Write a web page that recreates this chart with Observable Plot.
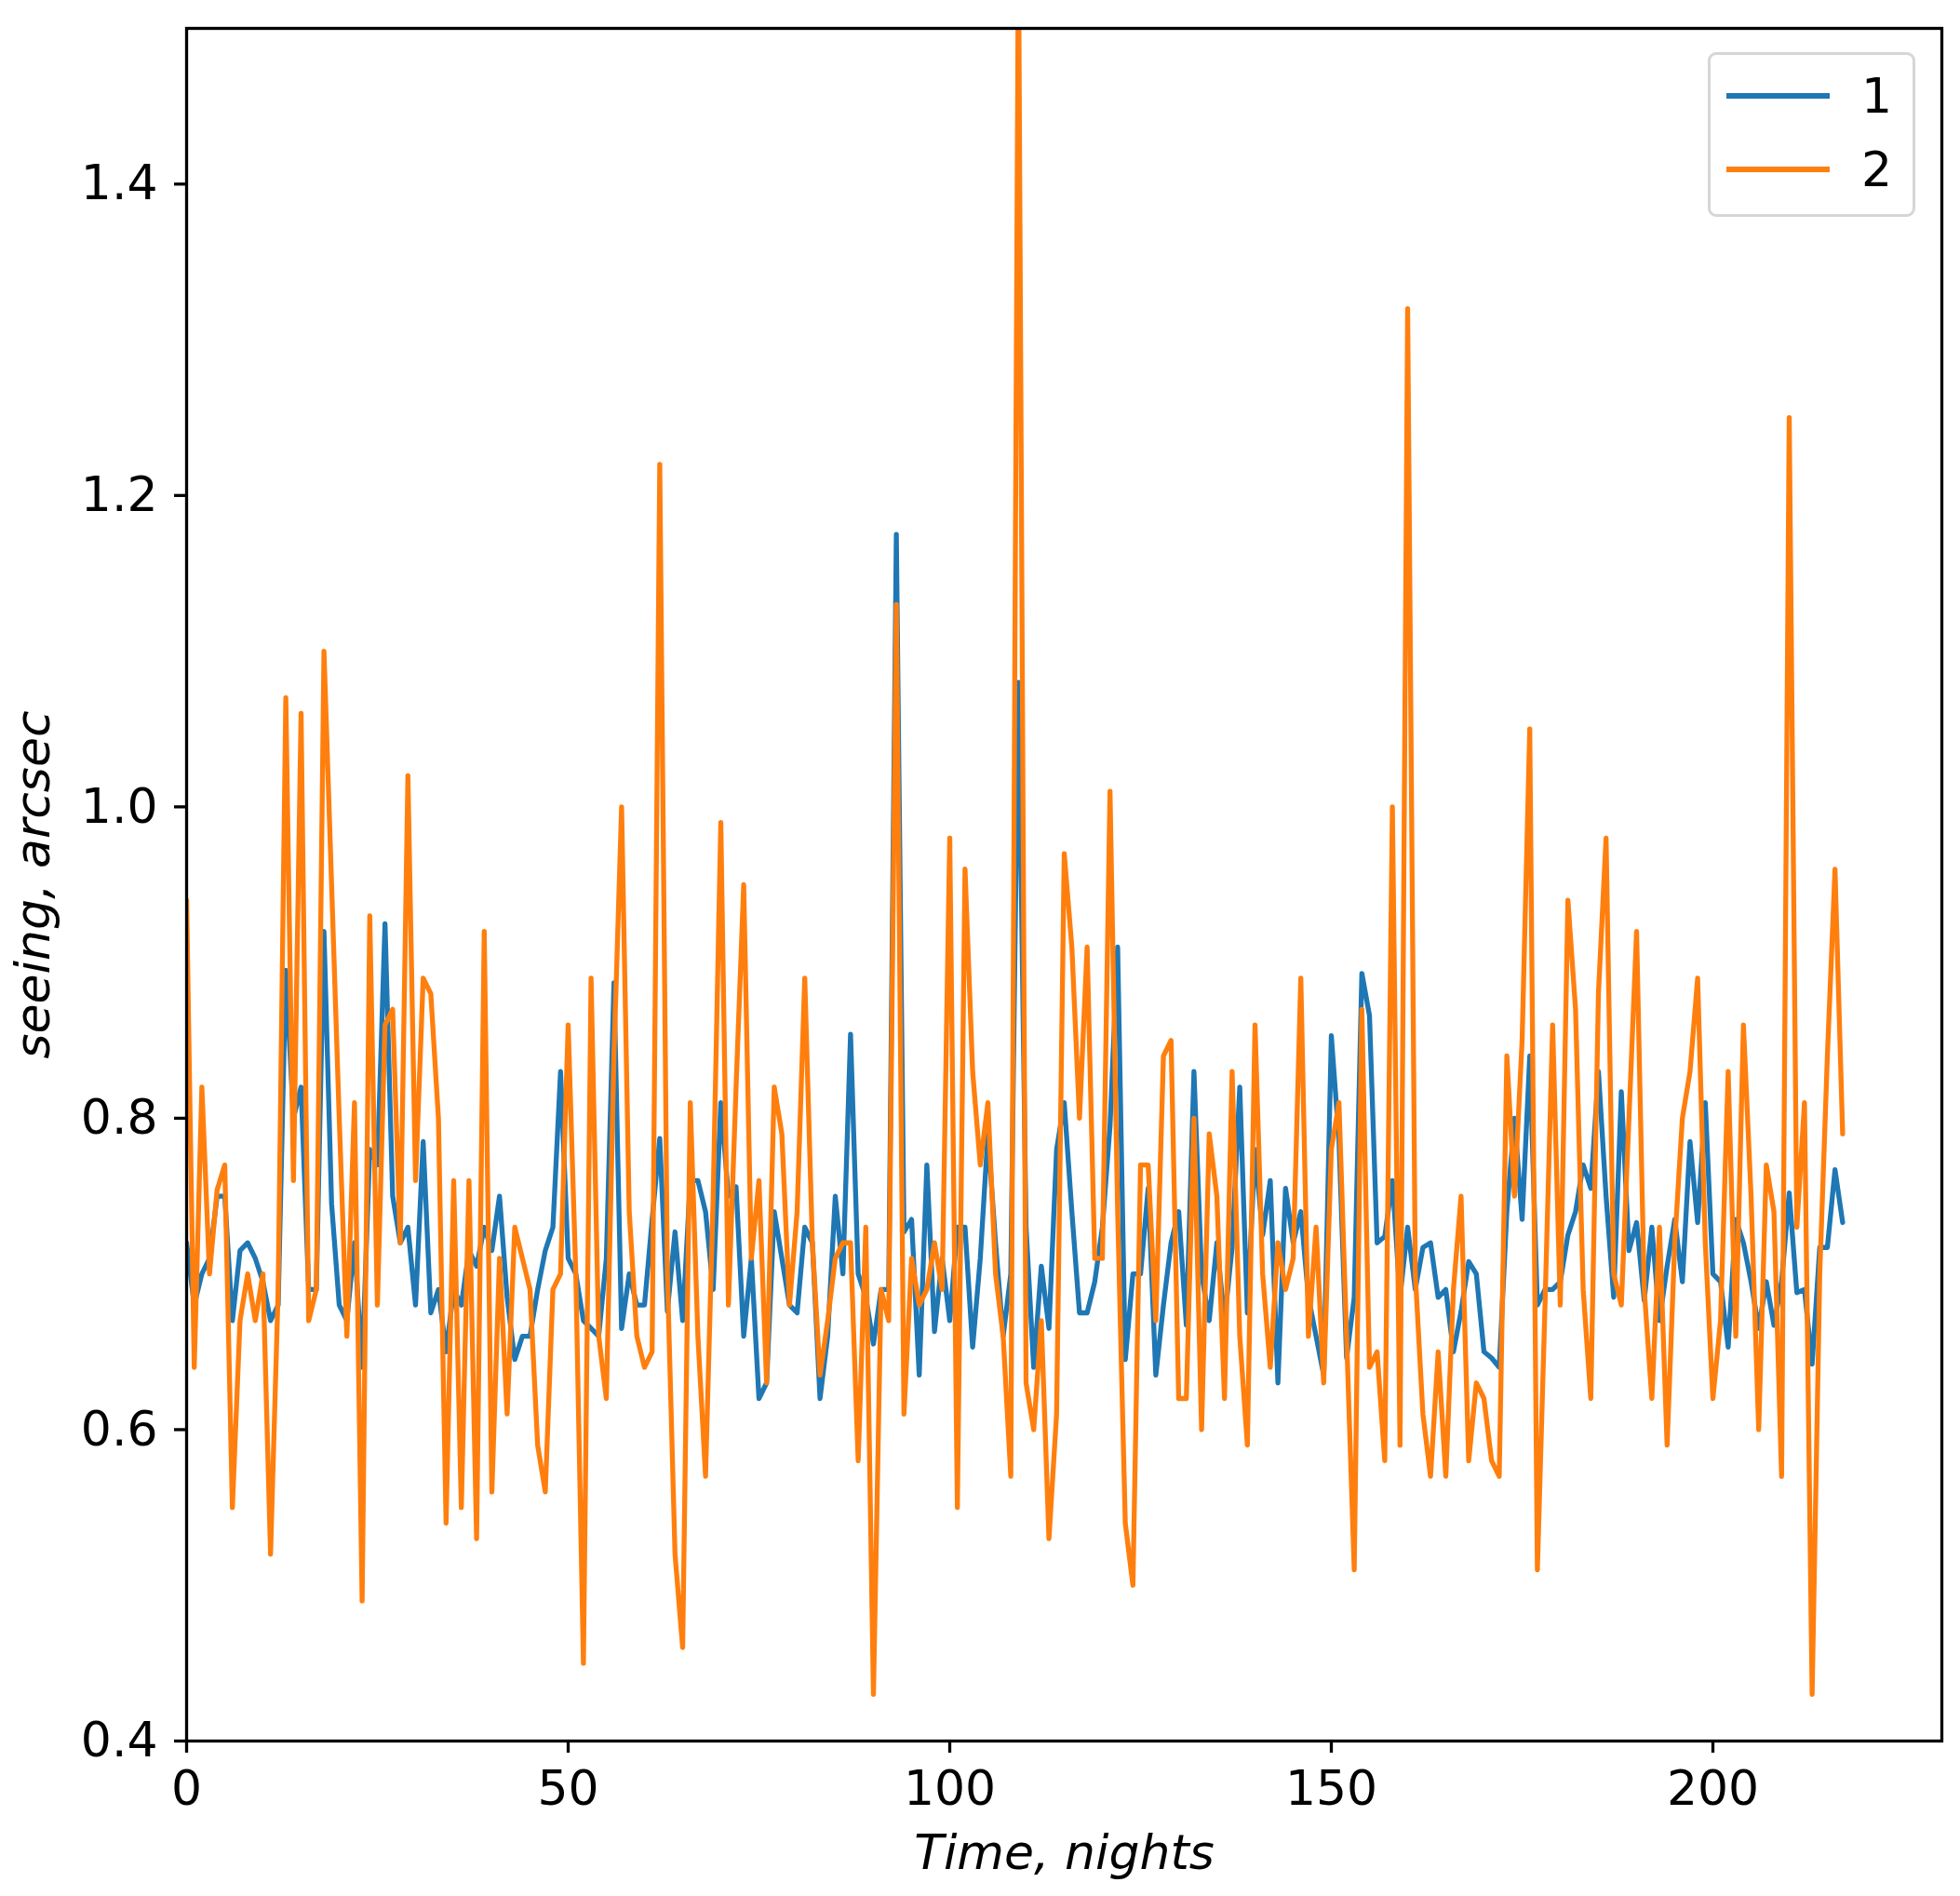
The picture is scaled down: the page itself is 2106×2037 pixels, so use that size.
<!DOCTYPE html>
<html>
<head>
<meta charset="utf-8">
<script src="https://cdn.jsdelivr.net/npm/d3@7"></script>
<script src="https://cdn.jsdelivr.net/npm/@observablehq/plot@0.6"></script>
<style>
  html, body { margin: 0; padding: 0; background: #fff; }
  #wrap { position: relative; width: 2106px; height: 2037px; font-family: "DejaVu Sans", sans-serif; }
  #legend { position: absolute; box-sizing: border-box; border: 3px solid #d6d6d6; border-radius: 9px; background: rgba(255,255,255,0.8); }
  #legend .sw { position: absolute; left: 17px; width: 111px; height: 5.5px; }
  #legend .lab { position: absolute; left: 162px; font-size: 52px; line-height: 52px; color: #000; }
</style>
</head>
<body>
<div id="wrap"></div>
<script>
// ---- data ----
const seriesNames = ["1", "2"];
const seriesColors = ["#1f77b4", "#ff7f0e"];

const series1 = [
  0.72, 0.68, 0.70, 0.71, 0.75, 0.75, 0.67, 0.715, 0.72, 0.71,
  0.695, 0.67, 0.68, 0.895, 0.80, 0.82, 0.69, 0.69, 0.92, 0.745,
  0.68, 0.67, 0.72, 0.64, 0.78, 0.77, 0.925, 0.75, 0.72, 0.73,
  0.68, 0.785, 0.675, 0.69, 0.65, 0.69, 0.68, 0.715, 0.705, 0.73,
  0.715, 0.75, 0.685, 0.645, 0.66, 0.66, 0.69, 0.715, 0.73, 0.83,
  0.71, 0.70, 0.67, 0.665, 0.66, 0.71, 0.887, 0.665, 0.70, 0.68,
  0.68, 0.735, 0.787, 0.676, 0.727, 0.67, 0.76, 0.76, 0.74, 0.69,
  0.81, 0.75, 0.756, 0.66, 0.71, 0.62, 0.63, 0.74, 0.71, 0.68,
  0.675, 0.73, 0.72, 0.62, 0.66, 0.75, 0.70, 0.854, 0.70, 0.685,
  0.655, 0.69, 0.69, 1.175, 0.727, 0.735, 0.635, 0.77, 0.663, 0.71,
  0.67, 0.73, 0.73, 0.653, 0.71, 0.79, 0.72, 0.66, 0.70, 1.08,
  0.73, 0.64, 0.705, 0.665, 0.78, 0.81, 0.74, 0.675, 0.675, 0.695,
  0.73, 0.795, 0.91, 0.645, 0.70, 0.70, 0.755, 0.635, 0.68, 0.72,
  0.74, 0.667, 0.83, 0.70, 0.67, 0.72, 0.67, 0.717, 0.82, 0.675,
  0.78, 0.725, 0.76, 0.63, 0.755, 0.72, 0.74, 0.685, 0.66, 0.635,
  0.853, 0.786, 0.646, 0.685, 0.893, 0.866, 0.72, 0.724, 0.76, 0.685,
  0.73, 0.69, 0.717, 0.72, 0.685, 0.69, 0.65, 0.676, 0.708, 0.70,
  0.65, 0.646, 0.64, 0.74, 0.80, 0.735, 0.84, 0.68, 0.69, 0.69,
  0.695, 0.725, 0.74, 0.77, 0.755, 0.83, 0.75, 0.685, 0.817, 0.715,
  0.733, 0.683, 0.73, 0.67, 0.705, 0.735, 0.695, 0.785, 0.733, 0.81,
  0.70, 0.695, 0.653, 0.735, 0.72, 0.695, 0.665, 0.695, 0.667, 0.695,
  0.752, 0.688, 0.69, 0.642, 0.717, 0.717, 0.767, 0.733
];

const series2 = [
  0.94, 0.64, 0.82, 0.70, 0.754, 0.77, 0.55, 0.67, 0.70, 0.67,
  0.70, 0.52, 0.69, 1.07, 0.76, 1.06, 0.67, 0.69, 1.10, 0.95,
  0.80, 0.66, 0.81, 0.49, 0.93, 0.68, 0.86, 0.87, 0.72, 1.02,
  0.76, 0.89, 0.88, 0.80, 0.54, 0.76, 0.55, 0.76, 0.53, 0.92,
  0.56, 0.71, 0.61, 0.73, 0.71, 0.69, 0.59, 0.56, 0.69, 0.70,
  0.86, 0.70, 0.45, 0.89, 0.66, 0.62, 0.84, 1.00, 0.74, 0.66,
  0.64, 0.65, 1.22, 0.70, 0.52, 0.46, 0.81, 0.66, 0.57, 0.75,
  0.99, 0.68, 0.82, 0.95, 0.71, 0.76, 0.63, 0.82, 0.79, 0.68,
  0.74, 0.89, 0.72, 0.635, 0.67, 0.71, 0.72, 0.72, 0.58, 0.73,
  0.43, 0.69, 0.67, 1.13, 0.61, 0.71, 0.68, 0.69, 0.72, 0.69,
  0.98, 0.55, 0.96, 0.83, 0.77, 0.81, 0.70, 0.66, 0.57, 1.56,
  0.63, 0.60, 0.67, 0.53, 0.61, 0.97, 0.91, 0.80, 0.91, 0.71,
  0.71, 1.01, 0.74, 0.54, 0.50, 0.77, 0.77, 0.67, 0.84, 0.85,
  0.62, 0.62, 0.80, 0.60, 0.79, 0.75, 0.62, 0.83, 0.66, 0.59,
  0.86, 0.70, 0.64, 0.72, 0.69, 0.71, 0.89, 0.66, 0.73, 0.63,
  0.78, 0.81, 0.66, 0.51, 0.87, 0.64, 0.65, 0.58, 1.00, 0.59,
  1.32, 0.70, 0.61, 0.57, 0.65, 0.57, 0.69, 0.75, 0.58, 0.63,
  0.62, 0.58, 0.57, 0.84, 0.75, 0.85, 1.05, 0.51, 0.68, 0.86,
  0.68, 0.94, 0.87, 0.69, 0.62, 0.88, 0.98, 0.70, 0.68, 0.80,
  0.92, 0.69, 0.62, 0.73, 0.59, 0.72, 0.80, 0.83, 0.89, 0.72,
  0.62, 0.67, 0.83, 0.66, 0.86, 0.75, 0.60, 0.77, 0.74, 0.57,
  1.25, 0.73, 0.81, 0.43, 0.70, 0.84, 0.96, 0.79
];

const xTicks = [0, 50, 100, 150, 200];
const yTicks = [0.4, 0.6, 0.8, 1.0, 1.2, 1.4];
const xLabel = "Time, nights";
const yLabel = "seeing, arcsec";

// ---- table for the library ----
const rows = [];
[series1, series2].forEach((vals, k) => {
  vals.forEach((v, i) => rows.push({night: i, value: v, series: seriesNames[k]}));
});

const W = 2106, H = 2037;
const mL = 200, mR = 20, mT = 30, mB = 167;
const FS = 52;

const chart = Plot.plot({
  width: W,
  height: H,
  marginLeft: mL,
  marginRight: mR,
  marginTop: mT,
  marginBottom: mB,
  style: {fontFamily: "DejaVu Sans, sans-serif", fontSize: FS + "px", color: "#000", background: "#fff"},
  x: {domain: [0, 230]},
  y: {domain: [0.4, 1.5]},
  color: {domain: seriesNames, range: seriesColors},
  marks: [
    Plot.line(rows, {x: "night", y: "value", z: "series", stroke: "series",
      strokeWidth: 5.3, strokeLinejoin: "round", clip: true}),
    Plot.frame({stroke: "#000", strokeWidth: 3.3}),
    Plot.axisX({ticks: xTicks, tickFormat: d3.format("d"), tickSize: 13, tickPadding: 19,
      strokeWidth: 3.3, fontSize: FS, label: null}),
    Plot.axisY({ticks: yTicks, tickFormat: d3.format(".1f"), tickSize: 13, tickPadding: 18,
      strokeWidth: 3.3, fontSize: FS, label: null}),
    Plot.text([xLabel], {frameAnchor: "bottom", text: d => d, dy: 121, lineAnchor: "middle",
      textAnchor: "middle", fontStyle: "italic", fontSize: FS, fill: "#000"}),
    Plot.text([yLabel], {frameAnchor: "left", text: d => d, rotate: -90, dx: -164, lineAnchor: "middle",
      textAnchor: "middle", fontStyle: "italic", fontSize: FS, fill: "#000"})
  ]
});

const wrap = document.getElementById("wrap");
wrap.appendChild(chart);

// ---- legend (HTML overlay, upper right) ----
const legend = document.createElement("div");
legend.id = "legend";
const boxW = 223, boxH = 177;
legend.style.width = boxW + "px";
legend.style.height = boxH + "px";
legend.style.left = (W - mR - 28 - boxW) + "px";
legend.style.top = (mT + 26) + "px";
const rowTops = [44, 123];
seriesNames.forEach((name, k) => {
  const sw = document.createElement("div");
  sw.className = "sw";
  sw.style.top = (rowTops[k] - 2.75) + "px";
  sw.style.background = seriesColors[k];
  legend.appendChild(sw);
  const lab = document.createElement("div");
  lab.className = "lab";
  lab.textContent = name;
  lab.style.top = (rowTops[k] - 26) + "px";
  legend.appendChild(lab);
});
wrap.appendChild(legend);
</script>
</body>
</html>
